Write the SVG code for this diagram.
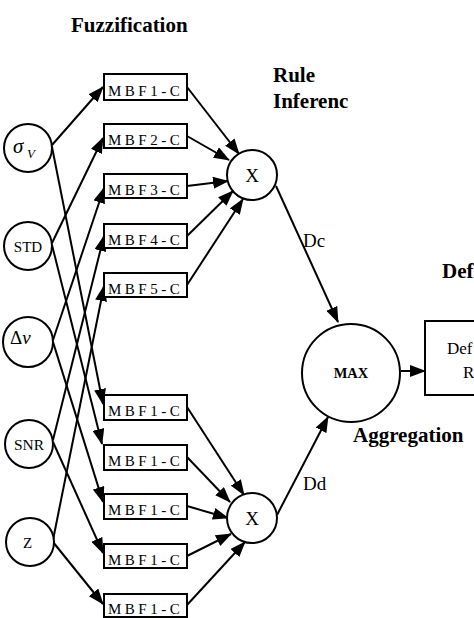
<svg xmlns="http://www.w3.org/2000/svg" width="474" height="618" viewBox="0 0 474 618">
<defs>
<style>
.n{fill:#fff;stroke:#000;stroke-width:2}
.c line{stroke:#000;stroke-width:2;marker-end:url(#ah)}
text{font-family:'Liberation Serif','DejaVu Serif',serif;fill:#000}
.h{font-weight:bold;font-size:21px}
.mb{font-size:15px;letter-spacing:3.5px}
</style>
<marker id="ah" viewBox="0 0 16 12" refX="15" refY="6" markerWidth="16" markerHeight="12" markerUnits="userSpaceOnUse" orient="auto">
<path d="M0,0 L16,6 L0,12 z" fill="#000"/>
</marker>
</defs>
<rect width="474" height="618" fill="#fff"/>
<g id="labels">
<text class="h" x="71" y="32">Fuzzification</text>
<text class="h" x="273" y="82">Rule</text>
<text class="h" x="273" y="108">Inferenc</text>
<text class="h" x="442" y="278">Def</text>
<text class="h" x="353" y="442">Aggregation</text>
<text x="303" y="247" font-size="19">Dc</text>
<text x="303" y="490" font-size="19">Dd</text>
</g>
<g id="connectors" class="c">
<line x1="52" y1="145" x2="103" y2="87"/>
<line x1="52" y1="147" x2="103" y2="404"/>
<line x1="52" y1="243" x2="103" y2="138"/>
<line x1="52" y1="245" x2="102" y2="444"/>
<line x1="53" y1="340" x2="104" y2="188"/>
<line x1="53" y1="342" x2="103" y2="502"/>
<line x1="53" y1="440" x2="104" y2="236"/>
<line x1="53" y1="442" x2="103" y2="553"/>
<line x1="53" y1="540" x2="104" y2="286"/>
<line x1="53" y1="542" x2="103" y2="604"/>
<line x1="187" y1="87" x2="239" y2="154"/>
<line x1="187" y1="136" x2="229" y2="160"/>
<line x1="187" y1="186" x2="228" y2="181"/>
<line x1="187" y1="236" x2="233" y2="191"/>
<line x1="187" y1="285" x2="243" y2="199"/>
<line x1="187" y1="407" x2="244" y2="495"/>
<line x1="187" y1="457" x2="230" y2="502"/>
<line x1="187" y1="506" x2="228" y2="518"/>
<line x1="187" y1="556" x2="231" y2="534"/>
<line x1="187" y1="605" x2="245" y2="542"/>
<line x1="276" y1="186" x2="338" y2="322"/>
<line x1="277" y1="515" x2="328" y2="417"/>
<line x1="401" y1="371" x2="425" y2="371"/>
</g>
<g id="in-sigma"><circle class="n" cx="28" cy="148" r="24"/><text x="13" y="153" font-size="21" font-style="italic">σ</text><text x="27" y="158" font-size="13" font-style="italic">V</text></g>
<g id="in-std"><circle class="n" cx="28" cy="246" r="24"/><text x="28" y="252" font-size="15" text-anchor="middle">STD</text></g>
<g id="in-dv"><circle class="n" cx="28" cy="342" r="25"/><text x="10" y="344" font-size="19">Δ<tspan font-style="italic">v</tspan></text></g>
<g id="in-snr"><circle class="n" cx="29" cy="444" r="24"/><text x="29" y="450" font-size="15.5" text-anchor="middle">SNR</text></g>
<g id="in-z"><circle class="n" cx="30" cy="542" r="24"/><text x="27.5" y="548" font-size="15" text-anchor="middle">Z</text></g>
<g id="mbf-c1"><rect class="n" x="104" y="74" width="83" height="26"/><text class="mb" x="108" y="96">MBF1-C</text></g>
<g id="mbf-c2"><rect class="n" x="104" y="124" width="83" height="24"/><text class="mb" x="108" y="145">MBF2-C</text></g>
<g id="mbf-c3"><rect class="n" x="104" y="174" width="83" height="24"/><text class="mb" x="108" y="195">MBF3-C</text></g>
<g id="mbf-c4"><rect class="n" x="104" y="224" width="83" height="24"/><text class="mb" x="108" y="245">MBF4-C</text></g>
<g id="mbf-c5"><rect class="n" x="104" y="273" width="83" height="24"/><text class="mb" x="108" y="294">MBF5-C</text></g>
<g id="mbf-d1"><rect class="n" x="104" y="395" width="83" height="25"/><text class="mb" x="108" y="416">MBF1-C</text></g>
<g id="mbf-d2"><rect class="n" x="104" y="445" width="83" height="25"/><text class="mb" x="108" y="466">MBF1-C</text></g>
<g id="mbf-d3"><rect class="n" x="104" y="494" width="83" height="25"/><text class="mb" x="108" y="515">MBF1-C</text></g>
<g id="mbf-d4"><rect class="n" x="104" y="544" width="83" height="24"/><text class="mb" x="108" y="565">MBF1-C</text></g>
<g id="mbf-d5"><rect class="n" x="104" y="594" width="83" height="23"/><text class="mb" x="108" y="614">MBF1-C</text></g>
<g id="x-top"><circle class="n" cx="252" cy="175" r="25"/><text x="252" y="182" font-size="19" text-anchor="middle">X</text></g>
<g id="x-bottom"><circle class="n" cx="252" cy="518" r="25"/><text x="252" y="525" font-size="19" text-anchor="middle">X</text></g>
<g id="max"><circle class="n" cx="351" cy="373" r="49"/><text x="351" y="378" font-size="14.5" font-weight="bold" text-anchor="middle">MAX</text></g>
<g id="defuzz"><rect class="n" x="425" y="321" width="80" height="74"/><text x="447" y="354" font-size="17">Def</text><text x="463" y="378" font-size="17">R</text></g>
</svg>
